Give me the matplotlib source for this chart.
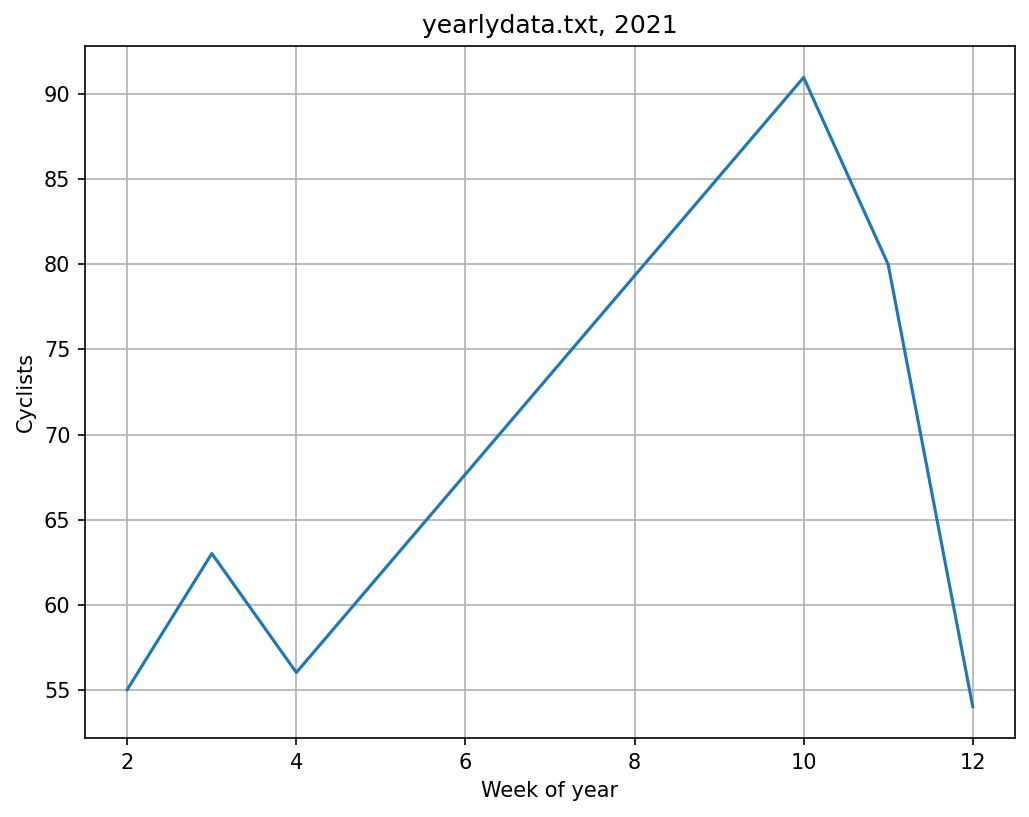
import matplotlib
matplotlib.use("Agg")
import matplotlib.pyplot as plt

weeks = [2, 3, 4, 10, 11, 12]
cyclists = [55, 63, 56, 91, 80, 54]
title = "yearlydata.txt, 2021"

DPI = 150
fig = plt.figure(figsize=(1029/DPI, 817/DPI), dpi=DPI)
ax = fig.add_axes([85/1029, 1-738/817, (1015-85)/1029, (738-46)/817])
ax.plot(weeks, cyclists, color="#1f77b4")
ax.set_title(title)
ax.set_xlabel("Week of year")
ax.set_ylabel("Cyclists")
ax.grid(True)
fig.savefig("out.png", dpi=DPI)
